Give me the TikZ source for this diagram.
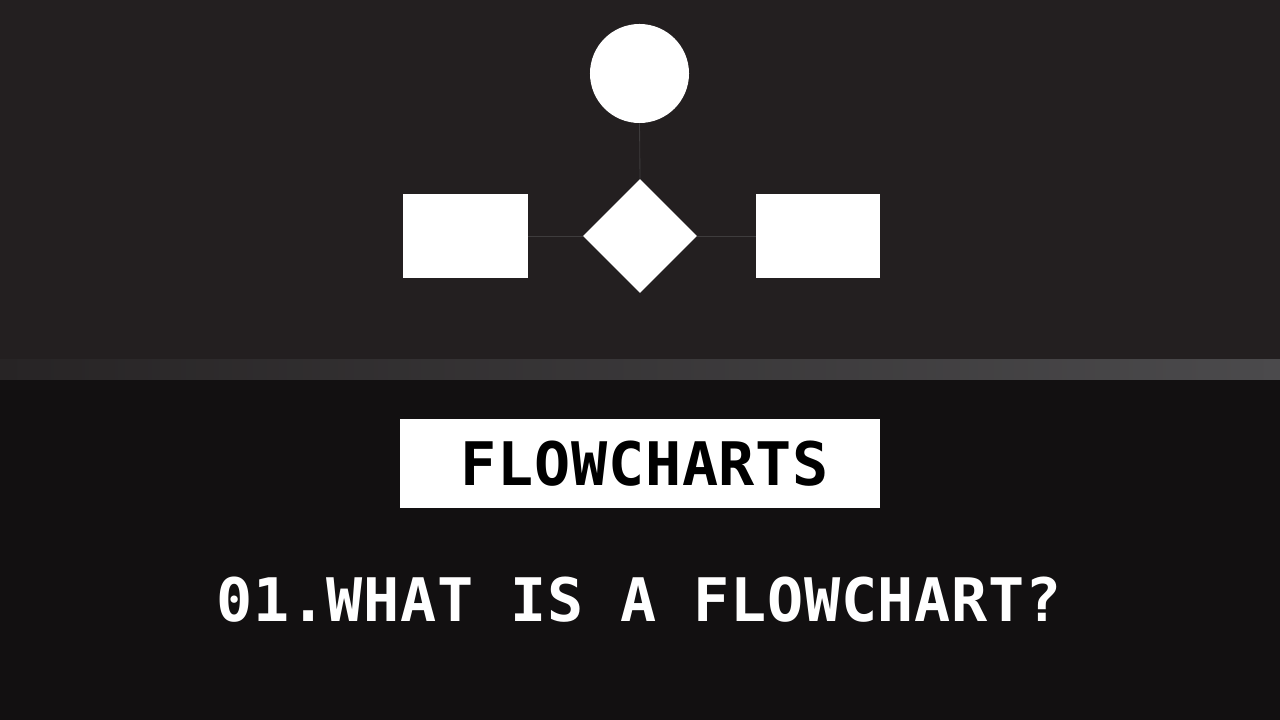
\documentclass[tikz,border=0pt]{standalone}
\usepackage{fontspec}
\setmonofont[LetterSpace=1.2]{DejaVu Sans Mono}
\usetikzlibrary{shapes.geometric}
\definecolor{topbg}{HTML}{231F20}
\definecolor{lowbg}{HTML}{121011}
\definecolor{bandl}{HTML}{272425}
\definecolor{bandr}{HTML}{4B4A4C}
\definecolor{linkgray}{HTML}{3E3C3D}

\begin{document}
\begin{tikzpicture}[x=0.025cm,y=-0.025cm,
    blob/.style={fill=white,draw=none,inner sep=0pt},
    link/.style={draw=linkgray,line width=0.6pt},
    title/.style={font=\ttfamily\bfseries\fontsize{42.7}{50}\selectfont}]
    \fill[topbg] (0,0) rectangle (1280,360);
    \fill[lowbg] (0,380) rectangle (1280,720);
    \shade[left color=bandl,right color=bandr] (0,360) rectangle (1280,380);
    \useasboundingbox (0,0) rectangle (1280,720);

    \node[blob,circle,minimum size=2.475cm] (start) at (639.5,73.5) {};
    \node[blob,diamond,minimum width=2.85cm,minimum height=2.85cm] (choice) at (640,236) {};
    \node[blob,minimum width=3.125cm,minimum height=2.1cm] (left) at (465.5,236) {};
    \node[blob,minimum width=3.1cm,minimum height=2.1cm] (right) at (818,236) {};

    \draw[link] (start.south) -- (choice.north);
    \draw[link] (left.east) -- (choice.west);
    \draw[link] (choice.east) -- (right.west);

    \node[blob,title,text=black,minimum width=12cm,minimum height=2.225cm] (banner) at (640,463.5) {\hspace*{7pt}FLOWCHARTS};
    \node[title,text=white,inner sep=0pt] (lesson) at (639,600) {01.WHAT IS A FLOWCHART?};
  \end{tikzpicture}
\end{document}
